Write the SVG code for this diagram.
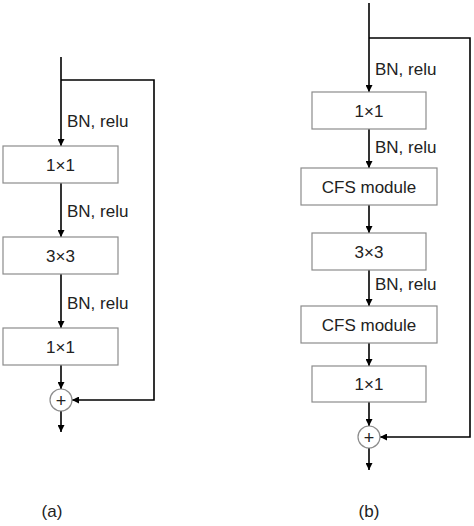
<svg xmlns="http://www.w3.org/2000/svg" width="474" height="526" viewBox="0 0 474 526">
<defs>
<marker id="ah" viewBox="0 0 10 10" refX="10" refY="5" markerWidth="7" markerHeight="7" markerUnits="userSpaceOnUse" orient="auto">
<path d="M0,0 L10,5 L0,10 z" fill="#000"/>
</marker>
</defs>
<style>
.box{fill:#fff;stroke:#8c8c8c;stroke-width:1.2}
.circ{fill:#fff;stroke:#8c8c8c;stroke-width:1.2}
.ln{fill:none;stroke:#000;stroke-width:1.6}
.t{font-family:"Liberation Sans",Arial,sans-serif;font-size:17px;fill:#222}
.c{text-anchor:middle}
.plus{font-family:"Liberation Sans",Arial,sans-serif;font-size:18px;fill:#222;text-anchor:middle}
.p{font-family:"Liberation Sans",Arial,sans-serif;font-size:17px;fill:#222;text-anchor:middle}
</style>
<rect width="474" height="526" fill="#fff"/>
<g id="connectors">
<path class="ln" d="M61,57 V146" marker-end="url(#ah)"/>
<path class="ln" d="M61,80 H154 V400 H72" marker-end="url(#ah)"/>
<path class="ln" d="M61,183 V237" marker-end="url(#ah)"/>
<path class="ln" d="M61,274 V328" marker-end="url(#ah)"/>
<path class="ln" d="M61,365 V389" marker-end="url(#ah)"/>
<path class="ln" d="M61,411 V432" marker-end="url(#ah)"/>
<path class="ln" d="M369,3 V92" marker-end="url(#ah)"/>
<path class="ln" d="M369,38 H470 V437 H380" marker-end="url(#ah)"/>
<path class="ln" d="M369,129 V168" marker-end="url(#ah)"/>
<path class="ln" d="M369,205 V233" marker-end="url(#ah)"/>
<path class="ln" d="M369,270 V306" marker-end="url(#ah)"/>
<path class="ln" d="M369,343 V366" marker-end="url(#ah)"/>
<path class="ln" d="M369,402 V426" marker-end="url(#ah)"/>
<path class="ln" d="M369,448 V470" marker-end="url(#ah)"/>
</g>
<g id="labels">
<text class="t" x="67" y="127">BN, relu</text>
<text class="t" x="67" y="217">BN, relu</text>
<text class="t" x="67" y="309">BN, relu</text>
<text class="t" x="375" y="75">BN, relu</text>
<text class="t" x="375" y="153">BN, relu</text>
<text class="t" x="375" y="290">BN, relu</text>
</g>
<g id="a-conv1">
<rect class="box" x="3" y="146" width="115" height="37"/>
<text class="t c" x="60.5" y="170.5">1×1</text>
</g>
<g id="a-conv3">
<rect class="box" x="3" y="237" width="115" height="37"/>
<text class="t c" x="60.5" y="261.5">3×3</text>
</g>
<g id="a-conv1b">
<rect class="box" x="3" y="328" width="115" height="37"/>
<text class="t c" x="60.5" y="352.5">1×1</text>
</g>
<g id="a-add">
<circle class="circ" cx="61" cy="400" r="11"/>
<text class="plus" x="61" y="406.5">+</text>
</g>
<g id="b-conv1">
<rect class="box" x="312" y="92" width="114" height="37"/>
<text class="t c" x="369" y="116.5">1×1</text>
</g>
<g id="b-cfs1">
<rect class="box" x="301" y="168" width="136" height="37"/>
<text class="t c" x="369" y="192.5">CFS module</text>
</g>
<g id="b-conv3">
<rect class="box" x="312" y="233" width="114" height="37"/>
<text class="t c" x="369" y="257.5">3×3</text>
</g>
<g id="b-cfs2">
<rect class="box" x="301" y="306" width="136" height="37"/>
<text class="t c" x="369" y="330.5">CFS module</text>
</g>
<g id="b-conv1b">
<rect class="box" x="312" y="366" width="114" height="36"/>
<text class="t c" x="369" y="390">1×1</text>
</g>
<g id="b-add">
<circle class="circ" cx="369" cy="437" r="11"/>
<text class="plus" x="369" y="443.5">+</text>
</g>
<g id="captions">
<text class="p" x="52" y="517">(a)</text>
<text class="p" x="369" y="517">(b)</text>
</g>
</svg>
